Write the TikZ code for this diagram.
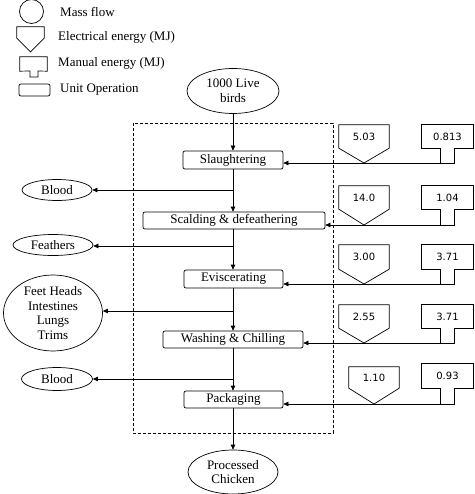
\documentclass[tikz,border=0pt]{standalone}
\usepackage{fontspec}
\setmainfont{Liberation Serif}
\newfontfamily\numfont{DejaVu Sans}
\usetikzlibrary{shapes.geometric,arrows.meta}
\tikzset{
  every node/.style={font=\fontsize{13}{14.7}\selectfont},
  ln/.style={line width=0.7pt},
  flow/.style={ln,-{Triangle[length=5pt,width=4.5pt]}},
  unitop/.style={draw,ln,rounded corners=2pt,inner sep=0pt},
  mass/.style={draw,ln,ellipse,inner sep=0pt,align=center},
  ebox/.style={inner sep=0pt,font=\numfont\fontsize{10}{12}\selectfont},
  legtxt/.style={anchor=west,inner sep=0pt},
  fence/.style={ln,dash pattern=on 3pt off 2pt}
}
\newcommand{\elecshape}[2]{% node name, tip y
  \draw[ln] (#1.north west) -- (#1.north east) -- (#1.south east) -- (#1.south |- 0,#2) -- (#1.south west) -- cycle;}
\newcommand{\manshape}[2]{% node name, stem bottom y
  \draw[ln] (#1.north west) -- (#1.north east) -- (#1.south east) -- ([xshift=6.5pt]#1.south) -- ([xshift=6.5pt]#1.south |- 0,#2) -- ([xshift=-7.5pt]#1.south |- 0,#2) -- ([xshift=-7.5pt]#1.south) -- (#1.south west) -- cycle;}
\begin{document}
\begin{tikzpicture}[x=1pt,y=-1pt]
\useasboundingbox (0,0) rectangle (474,494);
% legend
\node[draw,ln,circle,minimum size=24,inner sep=0pt] (lcirc) at (31.5,11.5) {};
\node[legtxt] (ltxt1) at (60,12) {Mass flow};
\node[inner sep=0pt,minimum width=27,minimum height=11] (lelec) at (30.5,32.5) {};
\draw[ln] (lelec.north west) -- (lelec.north east) -- (lelec.south east) -- (30.5,52) -- (lelec.south west) -- cycle;
\node[legtxt] (ltxt2) at (58,37) {Electrical energy (MJ)};
\node[inner sep=0pt,minimum width=27,minimum height=14] (lman) at (33.5,64) {};
\draw[ln] (lman.north west) -- (lman.north east) -- (lman.south east) -- (38,71) -- (38,77) -- (30,77) -- (30,71) -- (lman.south west) -- cycle;
\node[legtxt] (ltxt3) at (58,63) {Manual energy (MJ)};
\node[unitop,minimum width=31,minimum height=12] (lunit) at (34.5,90) {};
\node[legtxt] (ltxt4) at (60,90) {Unit Operation};
% boundary
\draw[fence] (133,123) rectangle (333,433);
% main flow
\node[mass,minimum width=92,minimum height=45] (live) at (233,91) {1000 Live\\birds};
\node[unitop,minimum width=100,minimum height=18] (slaughter) at (233,160) {Slaughtering};
\node[unitop,minimum width=182,minimum height=17] (scald) at (234,220.5) {Scalding \& defeathering};
\node[unitop,minimum width=99,minimum height=18] (evisc) at (233.5,279) {Eviscerating};
\node[unitop,minimum width=140,minimum height=17] (wash) at (233,339.5) {Washing \& Chilling};
\node[unitop,minimum width=99,minimum height=17] (pack) at (233.5,399.5) {Packaging};
\node[mass,minimum width=90,minimum height=44] (chicken) at (233,472) {Processed\\Chicken};
\draw[flow] (live) -- (slaughter.north -| live);
\draw[flow] (slaughter.south -| live) -- (scald.north -| live);
\draw[flow] (scald.south -| live) -- (evisc.north -| live);
\draw[flow] (evisc.south -| live) -- (wash.north -| live);
\draw[flow] (wash.south -| live) -- (pack.north -| live);
\draw[flow] (pack.south -| live) -- (chicken);
% outputs
\node[mass,minimum width=70,minimum height=21] (blood1) at (57,190) {Blood};
\node[mass,minimum width=80,minimum height=21] (feathers) at (53,245) {Feathers};
\node[mass,minimum width=99,minimum height=76] (waste) at (53,313) {Feet Heads\\Intestines\\Lungs\\Trims};
\node[mass,minimum width=71,minimum height=23] (blood2) at (57,379) {Blood};
\coordinate (o1) at (233,190);
\coordinate (o2) at (233,246);
\coordinate (o3) at (233,311);
\coordinate (o4) at (233,379);
\draw[flow] (o1) -- (blood1.east |- o1);
\draw[flow] (o2) -- (feathers.east |- o2);
\draw[flow] (o3) -- (waste.east |- o3);
\draw[flow] (o4) -- (blood2.east |- o4);
% energy inputs
\node[ebox,minimum width=50,minimum height=23] (e1) at (364,136.5) {5.03};
\node[ebox,minimum width=51,minimum height=23] (m1) at (447.5,136.5) {0.813};
\elecshape{e1}{163}\manshape{m1}{163}
\coordinate (j1) at ([xshift=6.5pt]m1.south |- 0,163);
\draw[flow] (j1) -- (slaughter.east |- j1);
\node[ebox,minimum width=50,minimum height=23] (e2) at (364,197.5) {14.0};
\node[ebox,minimum width=51,minimum height=23] (m2) at (447.5,197.5) {1.04};
\elecshape{e2}{225}\manshape{m2}{225}
\coordinate (j2) at ([xshift=6.5pt]m2.south |- 0,225);
\draw[flow] (j2) -- (scald.east |- j2);
\node[ebox,minimum width=50,minimum height=24] (e3) at (364,257) {3.00};
\node[ebox,minimum width=51,minimum height=24] (m3) at (447.5,257) {3.71};
\elecshape{e3}{284}\manshape{m3}{284}
\coordinate (j3) at ([xshift=6.5pt]m3.south |- 0,284);
\draw[flow] (j3) -- (evisc.east |- j3);
\node[ebox,minimum width=50,minimum height=23] (e4) at (364,316.5) {2.55};
\node[ebox,minimum width=51,minimum height=23] (m4) at (447.5,316.5) {3.71};
\elecshape{e4}{343}\manshape{m4}{343}
\coordinate (j4) at ([xshift=6.5pt]m4.south |- 0,343);
\draw[flow] (j4) -- (wash.east |- j4);
\node[ebox,minimum width=50,minimum height=21] (e5) at (374,377.5) {1.10};
\node[ebox,minimum width=51,minimum height=24] (m5) at (447.5,376) {0.93};
\elecshape{e5}{404}\manshape{m5}{404}
\coordinate (j5) at ([xshift=6.5pt]m5.south |- 0,404);
\draw[flow] (j5) -- (pack.east |- j5);
\end{tikzpicture}
\end{document}
